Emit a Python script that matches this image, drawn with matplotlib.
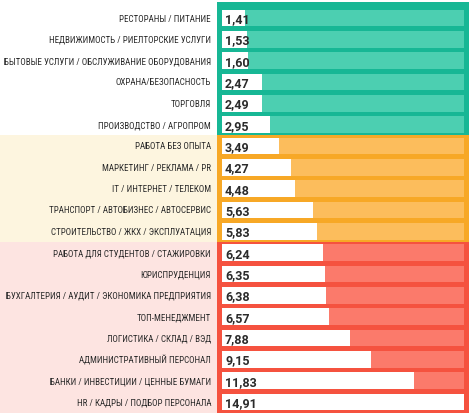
import matplotlib
matplotlib.use("Agg")
import matplotlib.pyplot as plt
from matplotlib.patches import Rectangle

# Данные
categories = [
    "РЕСТОРАНЫ / ПИТАНИЕ",
    "НЕДВИЖИМОСТЬ / РИЕЛТОРСКИЕ УСЛУГИ",
    "БЫТОВЫЕ УСЛУГИ / ОБСЛУЖИВАНИЕ ОБОРУДОВАНИЯ",
    "ОХРАНА/БЕЗОПАСНОСТЬ",
    "ТОРГОВЛЯ",
    "ПРОИЗВОДСТВО / АГРОПРОМ",
    "РАБОТА БЕЗ ОПЫТА",
    "МАРКЕТИНГ / РЕКЛАМА / PR",
    "IT / ИНТЕРНЕТ / ТЕЛЕКОМ",
    "ТРАНСПОРТ / АВТОБИЗНЕС / АВТОСЕРВИС",
    "СТРОИТЕЛЬСТВО / ЖКХ / ЭКСПЛУАТАЦИЯ",
    "РАБОТА ДЛЯ СТУДЕНТОВ / СТАЖИРОВКИ",
    "ЮРИСПРУДЕНЦИЯ",
    "БУХГАЛТЕРИЯ / АУДИТ / ЭКОНОМИКА ПРЕДПРИЯТИЯ",
    "ТОП-МЕНЕДЖМЕНТ",
    "ЛОГИСТИКА / СКЛАД / ВЭД",
    "АДМИНИСТРАТИВНЫЙ ПЕРСОНАЛ",
    "БАНКИ / ИНВЕСТИЦИИ / ЦЕННЫЕ БУМАГИ",
    "HR / КАДРЫ / ПОДБОР ПЕРСОНАЛА",
]
values = [1.41, 1.53, 1.60, 2.47, 2.49, 2.95,
          3.49, 4.27, 4.48, 5.63, 5.83,
          6.24, 6.35, 6.38, 6.57, 7.88, 9.15, 11.83, 14.91]
group_sizes = [6, 5, 8]

# Стиль групп: рамка, дорожка, фон подписи
group_styles = [
    ("#17b795", "#4ccfb1", "#ffffff"),
    ("#f7a826", "#fcbd5c", "#fdf5df"),
    ("#f5523f", "#fb7a6b", "#fde4e1"),
]

W, H = 474, 414
vmax = max(values)
px_left, px_right = 222, 464
scale = vmax / (px_right - px_left)
row_top, row_step = 19, 21.33


def vx(px):
    """Pixel x -> value units."""
    return (px - px_left) * scale


fig = plt.figure(figsize=(W / 100, H / 100), dpi=100)
ax = fig.add_axes([0, 0, 1, 1])
ax.set_xlim(vx(0), vx(W))
ax.set_ylim((H - row_top) / row_step, -row_top / row_step)
ax.axis("off")

start = 0
for size, (border, track, bg) in zip(group_sizes, group_styles):
    top = start - 0.5 if start else -0.75
    bottom = start + size - 0.5
    ax.add_patch(Rectangle((vx(0), top), vx(217) - vx(0), bottom - top,
                           facecolor=bg, edgecolor="none", zorder=0))
    ax.add_patch(Rectangle((vx(217), top), vx(469) - vx(217), bottom - top,
                           facecolor=border, edgecolor="none", zorder=1))
    rows = list(range(start, start + size))
    ax.barh(rows, [vmax] * size, left=0, height=0.78, color=track, zorder=2)
    start += size

ax.barh(range(len(values)), values, left=0, height=0.78, color="white", zorder=3)

label_family = ["Roboto Condensed", "Roboto", "DejaVu Sans"]
labels = []
for i, (name, v) in enumerate(zip(categories, values)):
    labels.append(ax.text(vx(211), i, name, ha="right", va="center", fontsize=8,
                          family=label_family, fontstretch="condensed",
                          color="#2a2a2a"))
    ax.text(vx(225), i + 0.03, f"{v:.2f}".replace(".", ","), ha="left", va="center",
            fontsize=9, fontweight="bold", family=["Roboto", "DejaVu Sans"],
            color="#2b2b2b", zorder=4)

# подгоняем размер подписей, чтобы самая длинная влезла слева
renderer = fig.canvas.get_renderer()
widest = max(t.get_window_extent(renderer).width for t in labels)
size = min(8.3, 8 * 206 / widest)
for t in labels:
    t.set_fontsize(size)

fig.savefig("out.png", dpi=100)
